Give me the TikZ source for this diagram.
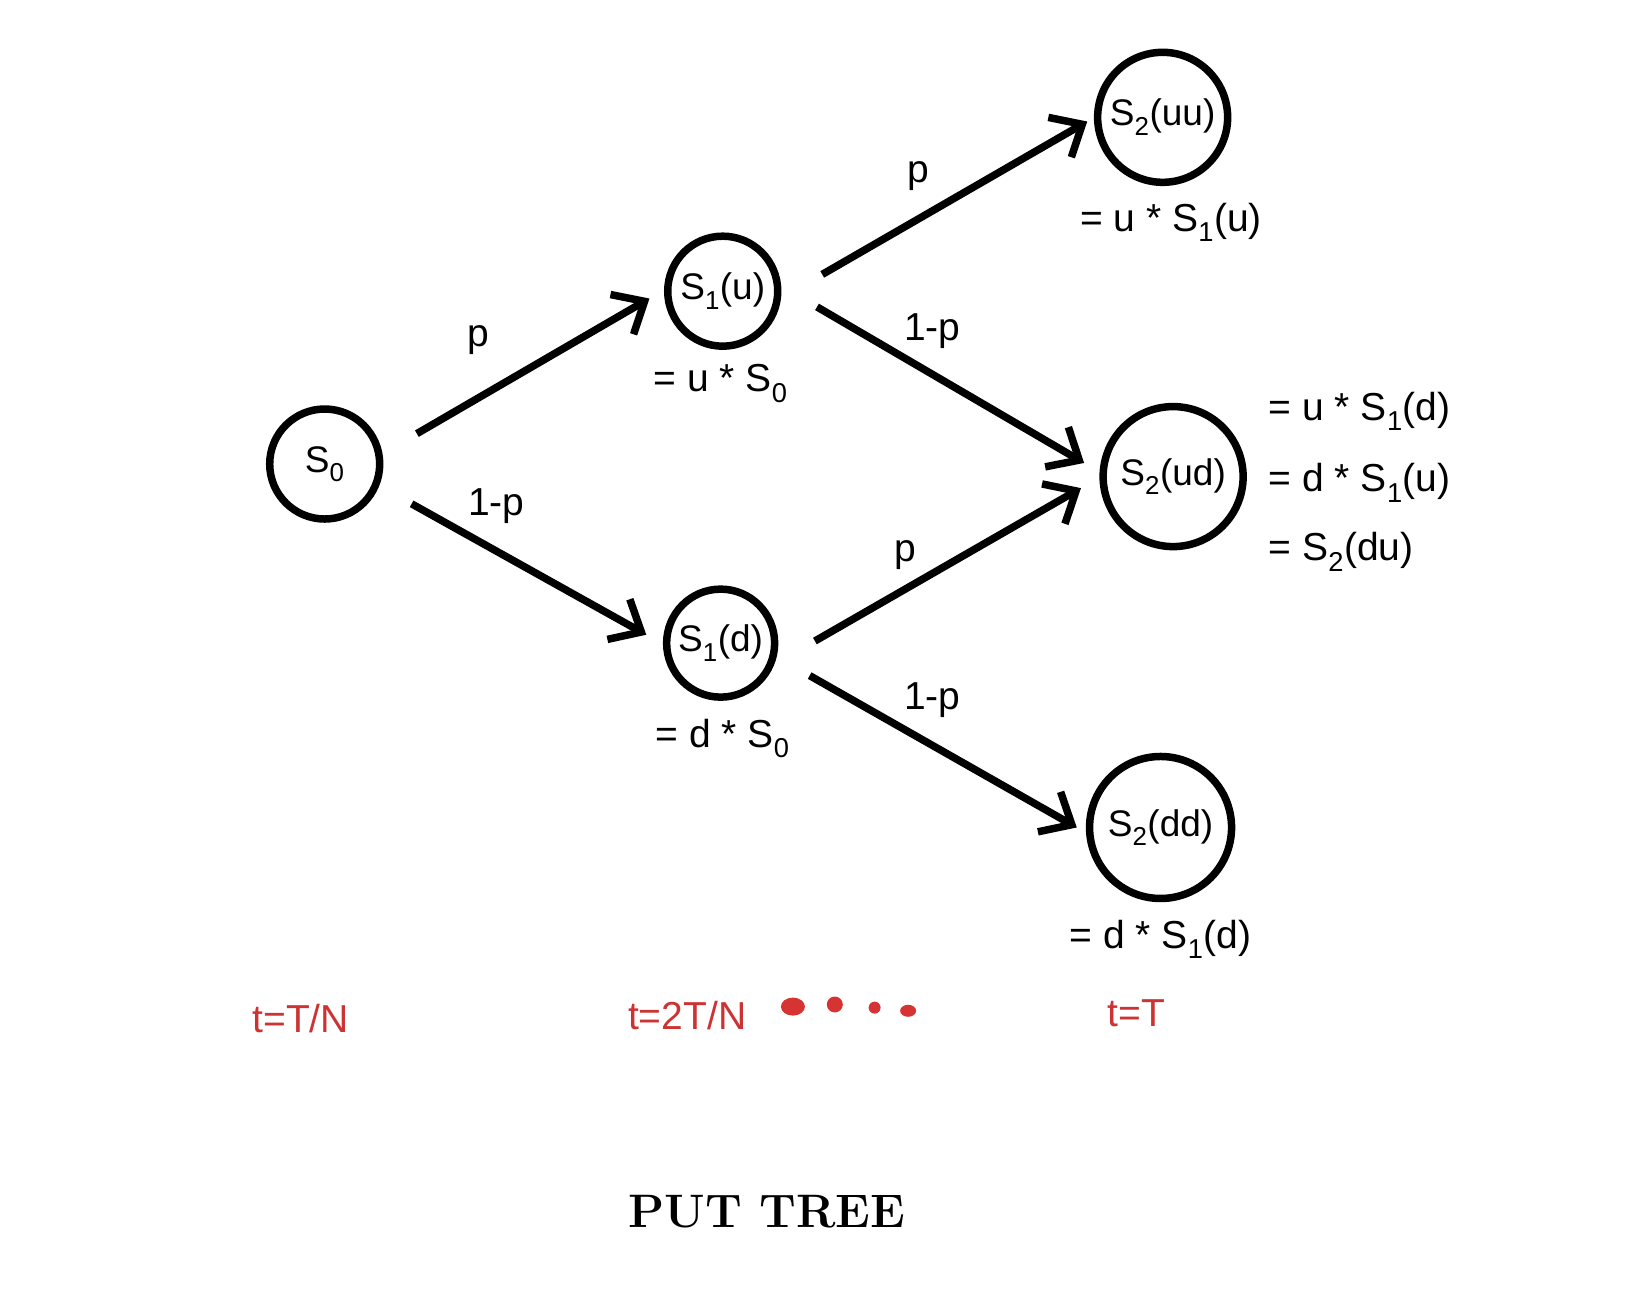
\documentclass[tikz,border=0pt]{standalone}
\usepackage{fontspec}
\setmainfont{Liberation Sans}
\usetikzlibrary{arrows.meta}
\begin{document}
\begin{tikzpicture}[x=1.0474pt,y=-1.0474pt,
  st/.style={circle,draw,line width=7.5pt,inner sep=0pt,font=\fontsize{37}{42}\selectfont},
  ar/.style={line width=7.5pt,-{Straight Barb[length=26pt,width=46pt,line width=7.5pt]}},
  lb/.style={font=\fontsize{39}{44}\selectfont},
  tm/.style={font=\fontsize{39}{44}\selectfont,text=red!75!black!80!white}]
\useasboundingbox (0,0) rectangle (1560,1241);
\node[st,minimum size=110pt] (s0) at (310,443) {S\textsubscript{0}};
\node[st,minimum size=110pt] (s1u) at (690,278) {S\textsubscript{1}(u)};
\node[st,minimum size=108pt] (s1d) at (688,614) {S\textsubscript{1}(d)};
\node[st,minimum size=130pt] (s2uu) at (1110,112) {S\textsubscript{2}(uu)};
\node[st,minimum size=140pt] (s2ud) at (1120,455) {S\textsubscript{2}(ud)};
\node[st,minimum size=142pt] (s2dd) at (1108,790) {S\textsubscript{2}(dd)};
\draw[ar] (398,414) -- (620,285);
\draw[ar] (393,481) -- (617,606);
\draw[ar] (785,262) -- (1038,116);
\draw[ar] (780,293) -- (1035,442);
\draw[ar] (778,612) -- (1032,466);
\draw[ar] (773,645) -- (1028,790);
\node[lb] (l1) at (457,325) {p};
\node[lb] (l2) at (474,483) {1-p};
\node[lb] (l3) at (877,168) {p};
\node[lb] (l4) at (890,316) {1-p};
\node[lb] (l5) at (864,530) {p};
\node[lb] (l6) at (890,668) {1-p};
\node[lb] (e1) at (688,366) {= u * S\textsubscript{0}};
\node[lb] (e2) at (690,705) {= d * S\textsubscript{0}};
\node[lb] (e3) at (1118,212) {= u * S\textsubscript{1}(u)};
\node[lb] (e4) at (1108,897) {= d * S\textsubscript{1}(d)};
\node[lb,anchor=west] (e5) at (1208,393) {= u * S\textsubscript{1}(d)};
\node[lb,anchor=west] (e6) at (1208,461) {= d * S\textsubscript{1}(u)};
\node[lb,anchor=west] (e7) at (1208,527) {= S\textsubscript{2}(du)};
\node[tm] (t1) at (287,972) {t=T/N};
\node[tm] (t2) at (656,970) {t=2T/N};
\node[tm] (t3) at (1085,967) {t=T};
\fill[red!80!black!80!white] (757,961) ellipse (12pt and 9pt) (797,959) circle (8pt) (835,962) circle (6pt) (867,965) ellipse (8pt and 6pt);
\node (title) at (732,1157) {\fontsize{47}{50}\fontspec{Latin Modern Roman}\bfseries PUT TREE};
\end{tikzpicture}
\end{document}
